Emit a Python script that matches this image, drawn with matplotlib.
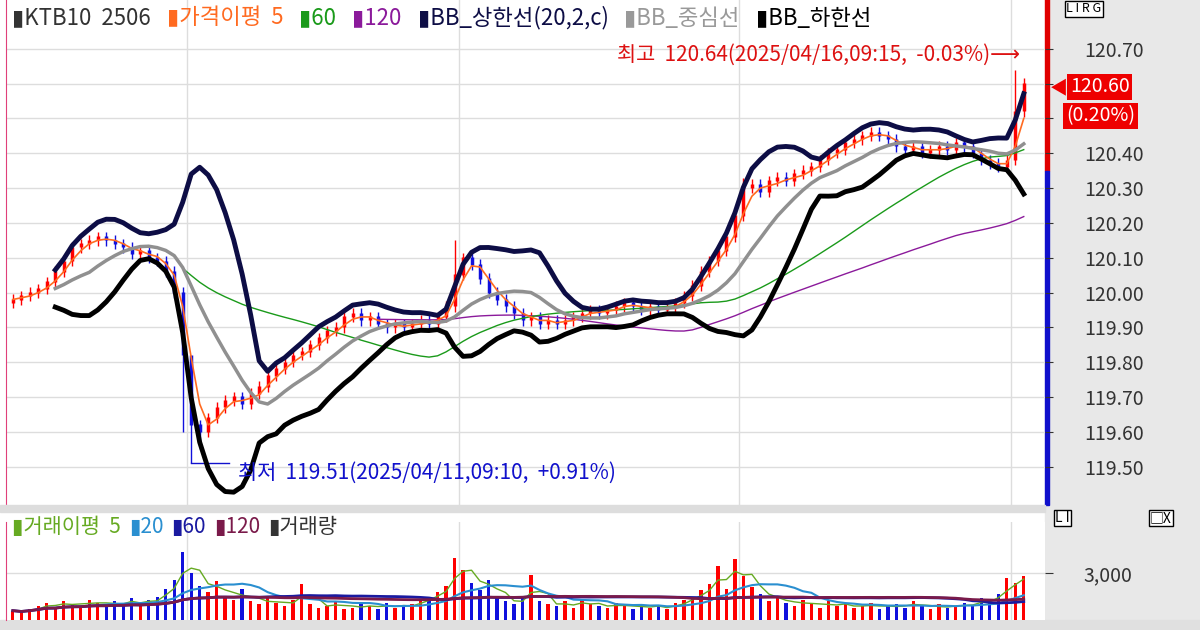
import matplotlib
matplotlib.use("Agg")
import matplotlib.pyplot as plt
import numpy as np
import pandas as pd
from matplotlib.patches import Rectangle

plt.rcParams['font.family'] = ['Noto Sans CJK KR', 'DejaVu Sans']

closes = [119.98,119.99,120.00,120.01,120.03,120.06,120.09,120.13,120.14,120.15,
          120.16,120.15,120.14,120.13,120.11,120.12,120.10,120.09,120.06,120.00,
          119.82,119.62,119.60,119.64,119.67,119.69,119.70,119.68,119.71,119.73,
          119.76,119.78,119.80,119.82,119.83,119.85,119.87,119.89,119.90,119.93,
          119.94,119.92,119.93,119.91,119.90,119.91,119.90,119.91,119.92,119.91,
          119.93,119.96,120.05,120.10,120.08,120.04,120.00,119.98,119.96,119.94,
          119.92,119.93,119.91,119.92,119.91,119.92,119.93,119.94,119.95,119.94,
          119.95,119.96,119.97,119.96,119.95,119.96,119.95,119.96,119.97,119.99,
          120.02,120.06,120.09,120.12,120.16,120.22,120.30,120.31,120.29,120.32,
          120.33,120.32,120.34,120.35,120.36,120.38,120.40,120.41,120.43,120.44,
          120.45,120.46,120.45,120.44,120.42,120.41,120.42,120.40,120.41,120.42,
          120.41,120.43,120.42,120.40,120.38,120.37,120.36,120.38,120.52,120.60]
first_open = 119.97
wick_default = 0.015
high_override = {21: 119.66, 52: 120.15, 86: 120.33, 118: 120.64}
low_override = {21: 119.51, 22: 119.55, 20: 119.60}
volumes = [600,500,700,900,1100,800,1200,1000,900,1300,
           1100,900,1200,1000,1400,900,1300,1500,2000,2600,
           4400,3000,2200,1800,2500,1500,1300,2000,1200,1000,
           1400,1100,900,1300,2300,1000,800,900,1200,700,
           800,1000,900,700,1100,800,900,1000,1300,1500,
           1800,2200,4000,3200,2400,1900,2600,1500,1200,1000,
           1400,2900,1200,1000,900,1200,800,1300,1000,900,
           800,1100,900,700,1000,800,900,700,1100,1300,
           1500,1900,2300,3500,2000,3900,2800,2100,1700,1200,
           1500,1100,900,1300,1000,800,1200,900,1000,800,
           900,1100,700,900,1000,800,1200,900,700,1000,
           800,900,1100,900,1400,1200,1700,2700,2400,2800]
price_ticks = [119.50,119.60,119.70,119.80,119.90,120.00,120.10,120.20,120.30,120.40,120.50,120.60,120.70]
price_tick_labels = ["119.50","119.60","119.70","119.80","119.90","120.00","120.10","120.20","120.30","120.40","","","120.70"]
day_lines = [20.5, 52.5, 85.5, 117.5]

c = pd.Series(closes)
o = pd.Series([first_open] + closes[:-1])
n = len(closes)
h = np.maximum(o, c) + wick_default
l = np.minimum(o, c) - wick_default
for k, v in high_override.items(): h[k] = v
for k, v in low_override.items(): l[k] = v
ma5 = c.rolling(3, min_periods=1).mean()
ma60 = c.rolling(30, min_periods=21).mean()
ma120 = c.rolling(60, min_periods=44).mean()
mid = c.rolling(10, min_periods=6).mean()
sd = c.rolling(10, min_periods=6).std(ddof=0)
up = mid + 2 * sd
lo = mid - 2 * sd
x = np.arange(n)

W, H = 1200, 630
fig = plt.figure(figsize=(12, 6.3), dpi=100)
fig.patch.set_facecolor('white')
fig.add_artist(Rectangle((1045/W, 0), 155/W, 1, transform=fig.transFigure, color='#e8e8e8', zorder=0))
fig.add_artist(Rectangle((0, 0), 1, 10/H, transform=fig.transFigure, color='#e0e0e0', zorder=0))

ax = fig.add_axes([6/W, (H-505)/H, 1039/W, 505/H])
axv = fig.add_axes([6/W, 10/H, 1039/W, 98/H])
for a in (ax, axv):
    a.set_facecolor('white')
    for s in a.spines.values():
        s.set_visible(False)
    a.spines['left'].set_visible(True)
    a.spines['left'].set_color('#e0407a')
    a.set_xlim(-0.8, 121.5)
    for d in day_lines:
        a.axvline(d, color='#dddddd', lw=1, zorder=0)

ax.set_ylim(119.39, 120.84)
ax.set_yticks(price_ticks)
ax.set_yticklabels(price_tick_labels)
ax.yaxis.tick_right()
ax.tick_params(axis='y', length=6, pad=22, labelsize=14, colors='#333333', direction='out')
ax.tick_params(axis='x', bottom=False, labelbottom=False)
ax.grid(axis='y', color='#dddddd', lw=1, zorder=0)

for i in range(n):
    col = 'red' if c[i] >= o[i] else '#1010dd'
    ax.vlines(x[i], l[i], h[i], color=col, lw=1, zorder=2)
    ax.vlines(x[i], min(o[i], c[i]), max(o[i], c[i]) + 0.002, color=col, lw=2.5, zorder=2)

ax.plot(x, ma120, color='#8b1a9b', lw=1, zorder=3)
ax.plot(x, ma60, color='#1a9a1a', lw=1, zorder=3)
ax.plot(x, ma5, color='#ff6a20', lw=1.2, zorder=3)
ax.plot(x, mid, color='#909090', lw=2.5, zorder=4)
ax.plot(x, up, color='#0d0d45', lw=3.5, zorder=5)
ax.plot(x, lo, color='black', lw=3.5, zorder=5)

ax.add_artist(Rectangle((1.0, (120.35-119.39)/1.45), 0.004, 1, transform=ax.transAxes, color='#e00000', clip_on=False))
ax.add_artist(Rectangle((1.0, 0), 0.004, (120.35-119.39)/1.45, transform=ax.transAxes, color='#1010cc', clip_on=False))
fig.text(1070/W, 1-87/H, "120.60", color='white', fontsize=14, va='center', ha='left',
         bbox=dict(facecolor='#ee0000', edgecolor='none', pad=2))
fig.text(1066/W, 1-116/H, "(0.20%)", color='white', fontsize=14, va='center', ha='left',
         bbox=dict(facecolor='#ee0000', edgecolor='none', pad=2))
fig.text(1050/W, 1-88/H, "◀", color='#ee0000', fontsize=13, va='center', ha='left')

fig.canvas.draw()
rend = fig.canvas.get_renderer()

def chain(items, x0, y, gap=8, size=14):
    px = x0
    for t, col in items:
        tx = fig.text(px/W, 1-y/H, t, color=col, fontsize=size, va='center', ha='left')
        px = tx.get_window_extent(rend).x1 + gap

chain([("▮KTB10  2506", '#333333'), ("▮가격이평  5", '#ff6a20'), ("▮60", '#1a9a1a'),
       ("▮120", '#8b1a9b'), ("▮BB_상한선(20,2,c)", '#0d0d45'),
       ("▮BB_중심선", '#999999'), ("▮BB_하한선", 'black')], 12, 18, gap=16, size=16)
fig.text(1020/W, 1-55/H, "최고  120.64(2025/04/16,09:15,  -0.03%)⟶", color='#dd1111', fontsize=15,
         va='center', ha='right')
fig.text(238/W, 1-473/H, "최저  119.51(2025/04/11,09:10,  +0.91%)", color='#1111cc', fontsize=15, va='center')
ax.plot([21, 25.5], [119.51, 119.51], color='#1111cc', lw=1)

vol = pd.Series(volumes)
axv.set_ylim(0, 6300)
axv.set_yticks([3000])
axv.set_yticklabels(["3,000"])
axv.yaxis.tick_right()
axv.tick_params(axis='y', length=6, pad=22, labelsize=14, colors='#333333')
axv.tick_params(axis='x', bottom=False, labelbottom=False)
axv.grid(axis='y', color='#dddddd', lw=1)
vcols = ['red' if c[i] >= o[i] else '#1010dd' for i in range(n)]
axv.bar(x, vol, width=0.4, color=vcols, zorder=2)
axv.plot(x, vol.rolling(3, min_periods=1).mean(), color='#66aa22', lw=1, zorder=3)
axv.plot(x, vol.rolling(10, min_periods=1).mean(), color='#2a8fd0', lw=1.5, zorder=3)
axv.plot(x, vol.rolling(30, min_periods=1).mean(), color='#1a1aa0', lw=2, zorder=3)
axv.plot(x, vol.rolling(60, min_periods=1).mean(), color='#7a1a4a', lw=2, zorder=3)
chain([("▮거래이평  5", '#66aa22'), ("▮20", '#2a8fd0'), ("▮60", '#1a1aa0'),
       ("▮120", '#7a1a4a'), ("▮거래량", '#333333')], 12, 527, gap=8, size=15)
fig.add_artist(Rectangle((0, (H-512)/H), 1045/W, 7/H, transform=fig.transFigure, color='#dddddd'))
for bx, t in [(1055, "L I"), (1150, "□X")]:
    fig.text(bx/W, 1-518/H, t, fontsize=10, color='black', va='center',
             bbox=dict(facecolor='white', edgecolor='black', pad=1))
fig.text(1066/W, 1-9/H, "L I R G", fontsize=9, va='center',
         bbox=dict(facecolor='white', edgecolor='black', pad=1))

fig.savefig("out.png", dpi=100)
